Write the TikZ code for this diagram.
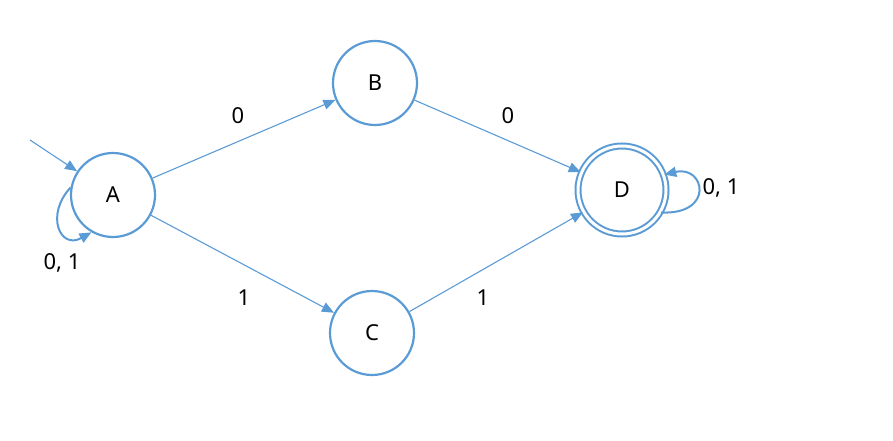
\documentclass[tikz,border=0pt]{standalone}
\usepackage{fontspec}
\setmainfont{Noto Sans}
\usetikzlibrary{arrows.meta}
\definecolor{st}{RGB}{91,155,213}
\tikzset{
 state/.style={circle,draw=st,line width=2.2pt,minimum size=84pt,inner sep=0pt,font=\fontsize{22}{22}\selectfont},
 edge/.style={draw=st,line width=1.1pt,-{Triangle[length=12pt,width=10pt]}},
 lab/.style={font=\fontsize{22}{22}\selectfont}
}
\begin{document}
\begin{tikzpicture}[x=1pt,y=-1pt]
\useasboundingbox (0,0) rectangle (893,441);
\node[state] (A) at (113,195) {A};
\node[state] (B) at (375,83) {B};
\node[state] (C) at (372,333) {C};
\node[state,double=white,double distance=3pt,line width=2pt,minimum size=88pt] (D) at (622,190) {D};
\coordinate (s) at (30,140);
\draw[edge] (s) -- (A);
\draw[edge] (A) -- (B);
\draw[edge] (A) -- (C);
\draw[edge] (B) -- (D);
\draw[edge] (C) -- (D);
\draw[edge,line width=2pt] (A.170) .. controls (45,215) and (60,250) .. (A.240);
\draw[edge,line width=2pt] (D.330) .. controls (715,215) and (705,165) .. (D.20);
\node[lab] at (238,116) {0};
\node[lab] at (508,116) {0};
\node[lab] at (244,298) {1};
\node[lab] at (483,298) {1};
\node[lab] at (62,263) {0, 1};
\node[lab] at (721,188) {0, 1};
\end{tikzpicture}
\end{document}
